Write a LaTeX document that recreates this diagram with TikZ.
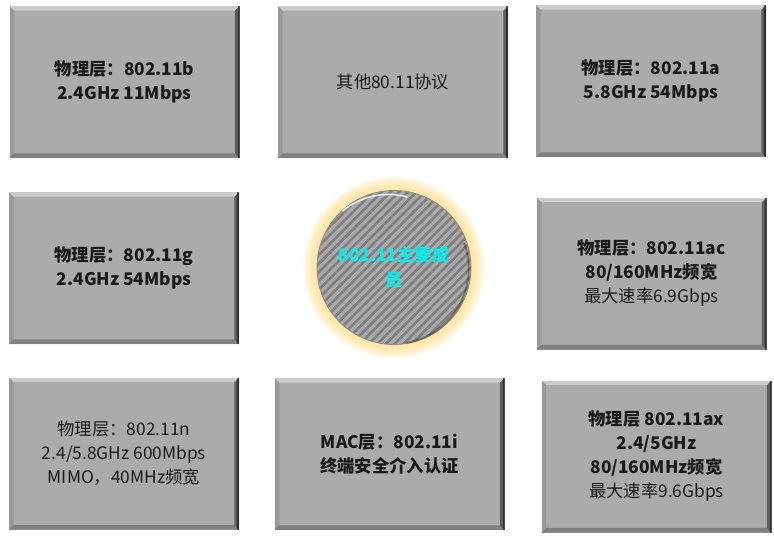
\documentclass[tikz,border=0pt]{standalone}
\usepackage{fontspec}
\setmainfont{Noto Sans CJK SC}
\usetikzlibrary{patterns.meta}
\definecolor{boxgray}{RGB}{171,171,171}
\definecolor{circgray}{RGB}{170,170,170}
\definecolor{stripegray}{RGB}{128,128,128}
\definecolor{glowyellow}{RGB}{255,214,110}
\definecolor{titlecyan}{RGB}{0,238,238}
\tikzset{
	phybox/.style={
			fill=boxgray,
			inner sep=0pt,
			align=center,
			text=black!90,
			font=\fontsize{13}{18}\selectfont,
			minimum width=172.5pt,
			minimum height=114pt,
			path picture={
					% top and left bevel
					\fill[white,opacity=0.4] (path picture bounding box.north west)
					-- (path picture bounding box.north east)
					-- ([shift={(-3.5pt,-3.5pt)}]path picture bounding box.north east)
					-- ([shift={(3.5pt,-3.5pt)}]path picture bounding box.north west) -- cycle;
					\fill[black,opacity=0.1] (path picture bounding box.north west)
					-- ([shift={(3.5pt,-3.5pt)}]path picture bounding box.north west)
					-- ([shift={(3.5pt,3.5pt)}]path picture bounding box.south west)
					-- (path picture bounding box.south west) -- cycle;
					% bottom and right bevel
					\fill[black,opacity=0.25] (path picture bounding box.south west)
					-- ([shift={(3.5pt,3.5pt)}]path picture bounding box.south west)
					-- ([shift={(-3.5pt,3.5pt)}]path picture bounding box.south east)
					-- (path picture bounding box.south east) -- cycle;
					\fill[black,opacity=0.45] (path picture bounding box.north east)
					-- ([shift={(-3.5pt,-3.5pt)}]path picture bounding box.north east)
					-- ([shift={(-3.5pt,3.5pt)}]path picture bounding box.south east)
					-- (path picture bounding box.south east) -- cycle;
					\fill[black,opacity=0.5] ([xshift=-1.5pt]path picture bounding box.north east)
					rectangle (path picture bounding box.south east);
				}
		},
	hubcircle/.style={
			circle,
			minimum size=115.5pt,
			inner sep=0pt,
			align=center,
			text=titlecyan,
			font=\bfseries\fontsize{13}{19}\selectfont,
			preaction={fill=circgray},
			pattern={Lines[angle=45,distance=4.6pt,line width=2pt]},
			pattern color=stripegray,
			draw=black!45,
			line width=0.6pt
		}
}

\begin{document}
\begin{tikzpicture}[x=0.75pt,y=-0.75pt]
		\useasboundingbox (0,0) rectangle (774,539);

		% Top row
		\node[phybox] (phyb) at (124.5,82)
		{\bfseries 物理层：802.11b\\\bfseries 2.4GHz 11Mbps};

		\node[phybox] (other) at (393,82)
		{其他80.11协议};

		\node[phybox] (phya) at (651,81)
		{\bfseries 物理层：802.11a\\\bfseries 5.8GHz 54Mbps};

		% Middle row
		\node[phybox] (phyg) at (124,268)
		{\bfseries 物理层：802.11g\\\bfseries 2.4GHz 54Mbps};

		% Glow round the centre
		\foreach \r in {91,89,...,78}{
				\fill[glowyellow,opacity=0.13] (394,267.5) circle[radius=\r*0.75pt];
			}

		\node[hubcircle] (hub) at (394,267.5)
		{802.11主要成\\员};

		\draw[white,opacity=0.8,line width=1.2pt]
		([shift={(-125:3pt)}]hub.130) arc[start angle=130,end angle=75,radius=54.5pt];
		\draw[black,opacity=0.3,line width=1.5pt]
		([shift={(135:1pt)}]hub.-80) arc[start angle=-80,end angle=20,radius=56.5pt];

		\node[phybox] (phyac) at (651.5,273.5)
		{\bfseries 物理层：802.11ac\\\bfseries 80/160MHz频宽\\最大速率6.9Gbps};

		% Bottom row
		\node[phybox] (phyn) at (124,453.5)
		{物理层：802.11n\\2.4/5.8GHz 600Mbps\\MIMO，40MHz频宽};

		\node[phybox] (maci) at (389.5,454)
		{\bfseries MAC层：802.11i\\\bfseries 终端安全介入认证};

		\node[phybox] (phyax) at (656.5,456.5)
		{\bfseries 物理层 802.11ax\\\bfseries 2.4/5GHz\\\bfseries 80/160MHz频宽\\最大速率9.6Gbps};
	\end{tikzpicture}
\end{document}
